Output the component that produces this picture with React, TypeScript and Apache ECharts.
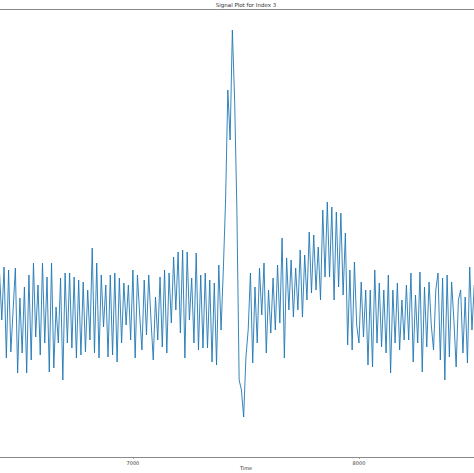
import React, { useEffect, useRef } from "react";
import * as echarts from "echarts";

const TITLE = "Signal Plot for Index 3";
const X_LABEL = "Time";
const T0 = 6410;
const STEP = 10;
const X_MIN = 6412;
const X_MAX = 8509;
const X_TICKS = [7000, 8000];
const Y_MIN = -127;
const Y_MAX = 321;

// signal samples (every 10 time units)
const segLeft = [57, 10, 63, -28, 60, -22, 20, 62, -43, 32, -23, 43, -43, 55, -30, 67, -7, 45, -25, 67, -13, 53, -42, 67, -38, 23, -13, 52, -50, 57, -13, 57, -18, 53, -28, 50];
const segLeftMid = [-25, 48, -22, 40, -10, 82, -23, 67, -28, 55, 3, 45, -27, 55, -25, 57, -32, 52, -13, 47, 5, 45, -10, 60, -28, 55, 15, -20, 50, -5, 55, 10, -30, 33, -10];
const segPreSpike = [53, -17, 60, -23, 57, 7, 73, 20, 78, -3, 80, -28, 78, 10, 52, -13, 77, -20, 55, -18, 57, -18, 50, -32, 47, -35, 65, 0];
const segSpike = [60, 130, 240, 190, 300, 230, 120, -50, -60, -87, -27, 0];
const segRise = [57, -33, 43, -13, 62, 15, 67, -23, 40, -3, 52, 0, 65, 7, 92, -28, 72, 20, 70, 13, 62, 20, 80, 13, 75, 30, 98, 37, 95, 40, 83];
const segHump = [30, 120, 53, 128, 53, 123, 30, 118, 43, 117, 35, 97, -15, 60, -20, 68, 5, -13, 48, -7, 40, -35, 40, -37, 60, -13, 47, -17, 40, -23, 55, -43, 40, -13, 47];
const segRight = [-20, 30, -10, 45, -10, 57, -32, 35, -13, 58, -42, 43, -17, 48, 5, -20, 40, 57, -30, 52, -50, 55, -27, 48, 10, -37, 30, 40, -23, 33, -33, 63, 0, 45];

const values = [...segLeft, ...segLeftMid, ...segPreSpike, ...segSpike, ...segRise, ...segHump, ...segRight];

export default function App() {
  const ref = useRef<HTMLDivElement>(null);
  useEffect(() => {
    if (!ref.current) return;
    const chart = echarts.init(ref.current, null, { renderer: "svg" });
    const data = values.map((v, i) => [T0 + i * STEP, v]);
    const spine = { color: "#8a8a8a", width: 1 };
    chart.setOption({
      animation: false,
      backgroundColor: "#ffffff",
      grid: {
        left: 0,
        right: 0,
        top: 9,
        bottom: 16,
        containLabel: false,
        outerBoundsMode: "none",
      },
      graphic: [
        {
          type: "text",
          x: 246,
          y: 5,
          style: {
            text: TITLE,
            fontSize: 5.5,
            fontFamily: "DejaVu Sans",
            fill: "#333",
            textAlign: "center",
            textVerticalAlign: "middle",
          },
        },
        {
          type: "text",
          x: 246,
          y: 468,
          style: {
            text: X_LABEL,
            fontSize: 5,
            fontFamily: "DejaVu Sans",
            fill: "#333",
            textAlign: "center",
            textVerticalAlign: "middle",
          },
        },
      ],
      xAxis: [
        {
          type: "value",
          min: X_MIN,
          max: X_MAX,
          position: "bottom",
          axisLine: { show: true, onZero: false, lineStyle: spine },
          axisTick: {
            show: true,
            length: 2,
            customValues: X_TICKS,
            lineStyle: { color: "#8a8a8a", width: 0.8 },
          },
          axisLabel: {
            fontSize: 5,
            fontFamily: "DejaVu Sans",
            color: "#333",
            margin: 3,
            customValues: X_TICKS,
            formatter: (v: number) => String(v),
          },
          splitLine: { show: false },
        },
        {
          type: "value",
          min: X_MIN,
          max: X_MAX,
          position: "top",
          axisLine: { show: true, onZero: false, lineStyle: spine },
          axisTick: { show: false },
          axisLabel: { show: false },
          splitLine: { show: false },
        },
      ],
      yAxis: {
        type: "value",
        min: Y_MIN,
        max: Y_MAX,
        show: false,
        splitLine: { show: false },
      },
      series: [
        {
          type: "line",
          xAxisIndex: 0,
          data,
          showSymbol: false,
          symbol: "none",
          lineStyle: { color: "#1f77b4", width: 0.9 },
        },
      ],
    });
    return () => chart.dispose();
  }, []);
  return (
    <div
      ref={ref}
      style={{ position: "fixed", left: 0, top: 0, width: 474, height: 473 }}
    />
  );
}
